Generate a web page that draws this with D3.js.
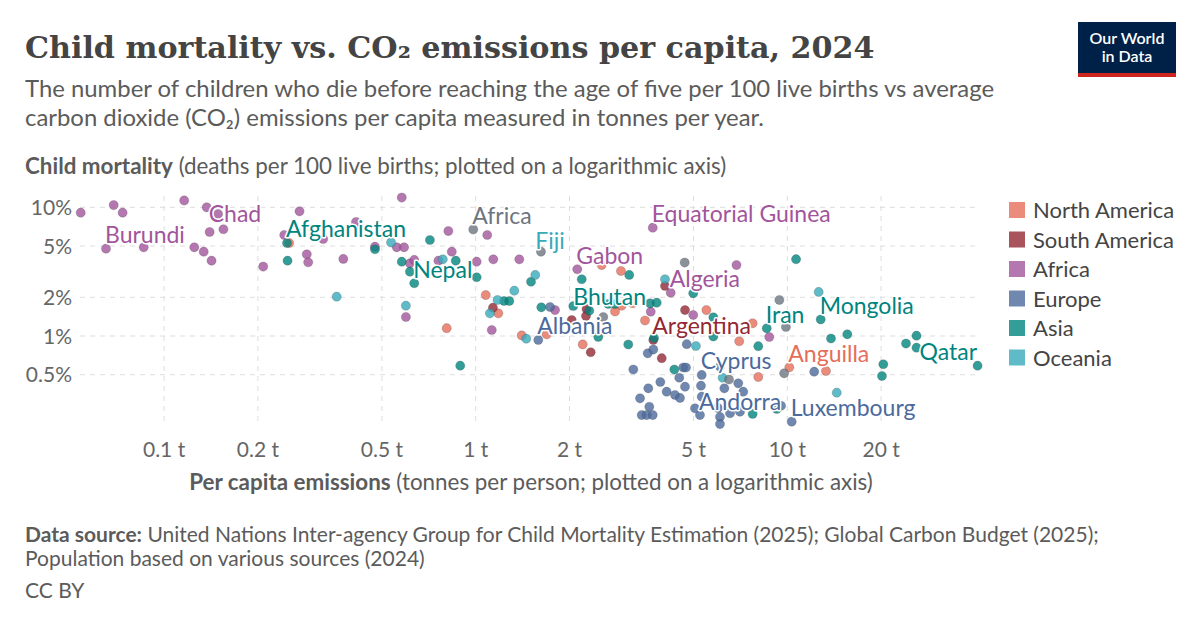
<!DOCTYPE html>
<html>
<head>
<meta charset="utf-8">
<script src="https://cdn.jsdelivr.net/npm/d3@7"></script>
<style>
  body { margin: 0; background: #fff; }
  svg text { font-family: Lato, "Noto Sans", sans-serif; }
</style>
</head>
<body>
<svg id="chart" width="1200" height="627"></svg>
<script>
const continents = ["North America", "South America", "Africa", "Europe", "Asia", "Oceania"]
const colors = ["#E56E5A", "#932834", "#A2559C", "#4C6A9C", "#00847E", "#38AABA"]
const otherColor = "#6D7581"

const xTicks = [0.1, 0.2, 0.5, 1, 2, 5, 10, 20]
const xTickLabels = ["0.1 t", "0.2 t", "0.5 t", "1 t", "2 t", "5 t", "10 t", "20 t"]
const yTicks = [0.5, 1, 2, 5, 10]
const yTickLabels = ["0.5%", "1%", "2%", "5%", "10%"]

// [CO2 per capita (t), child mortality (%), label]
const northAmerica = [
  [0.252, 5.28, ""], [0.807, 1.15], [1.077, 2.08], [1.182, 1.50], [1.405, 1.01],
  [1.69, 1.03], [2.205, 0.86], [2.537, 3.56], [2.926, 3.20], [2.94, 1.72],
  [3.19, 1.80], [2.80, 1.55], [3.494, 1.32], [5.50, 1.59], [7.01, 0.91],
  [8.07, 0.48], [10.15, 0.571, "Anguilla"], [13.31, 0.535], [7.74, 1.255]
]
const southAmerica = [
  [1.136, 1.66], [2.268, 1.62], [2.259, 1.43], [2.033, 1.33], [2.339, 0.748],
  [4.05, 2.45], [4.696, 1.59], [3.715, 0.931, "Argentina"], [3.954, 0.672]
]
const africa = [
  [0.054, 9.08], [0.0689, 10.4], [0.0736, 9.08], [0.116, 11.3], [0.140, 6.43],
  [0.155, 6.75], [0.0651, 4.77, "Burundi"], [0.086, 4.89], [0.125, 4.89], [0.134, 4.52],
  [0.142, 3.85], [0.208, 3.46], [0.272, 9.31], [0.243, 6.09], [0.287, 4.31],
  [0.290, 3.74], [0.324, 5.67], [0.376, 3.97], [0.413, 7.69], [0.475, 4.94],
  [0.558, 4.89], [0.589, 4.89], [0.579, 11.9], [0.149, 8.87], [0.137, 10.0, "Chad"],
  [0.615, 3.67], [0.635, 3.90], [0.817, 6.54], [0.838, 4.52], [0.759, 3.85],
  [1.089, 6.09], [1.007, 3.78], [1.139, 3.94], [1.38, 3.94], [0.597, 1.405],
  [1.126, 1.113], [3.70, 6.94, "Equatorial Guinea"], [2.118, 3.30, "Gabon"], [1.797, 1.59], [3.645, 1.545],
  [4.225, 2.17, "Algeria"], [4.99, 1.456], [6.87, 3.56], [8.755, 0.982]
]
const europe = [
  [1.588, 0.931, "Albania"], [1.732, 1.68], [3.565, 0.734], [3.715, 0.785], [4.756, 0.864],
  [4.637, 0.569], [4.73, 0.569], [3.205, 0.549], [3.368, 0.328], [3.58, 0.392],
  [3.913, 0.439], [4.10, 0.369], [4.36, 0.348], [4.525, 0.330], [4.696, 0.404],
  [4.50, 0.474], [3.607, 0.282], [3.41, 0.243], [3.538, 0.243], [3.70, 0.243],
  [5.055, 0.274], [5.245, 0.243, "Andorra"], [5.312, 0.338], [5.284, 0.411], [5.312, 0.498, "Cyprus"],
  [5.99, 0.276], [6.08, 0.235], [6.08, 0.207], [6.55, 0.251], [7.05, 0.258],
  [6.28, 0.392], [6.96, 0.429], [7.22, 0.369], [9.55, 0.287], [10.33, 0.216, "Luxembourg"],
  [12.2, 0.528], [6.08, 0.577]
]
const asia = [
  [0.248, 5.28, "Afghanistan"], [0.249, 3.85], [0.475, 4.72], [0.579, 3.78], [0.615, 3.16],
  [0.635, 2.57, "Nepal"], [0.713, 5.57], [0.863, 3.85], [1.007, 2.86], [0.892, 0.588],
  [1.233, 1.87], [1.282, 1.87], [1.505, 2.64], [1.624, 1.67], [2.057, 1.71, "Bhutan"],
  [2.189, 2.76], [2.315, 1.573], [2.474, 0.982], [2.664, 1.773], [2.80, 1.773],
  [3.11, 2.98], [3.088, 0.859], [3.626, 1.795], [3.81, 1.815], [3.735, 0.965],
  [4.34, 0.549], [4.99, 2.147], [5.79, 0.991], [5.79, 1.397], [8.07, 0.833],
  [8.59, 1.148, "Iran"], [10.67, 3.95], [12.8, 1.344, "Mongolia"], [13.81, 0.956], [15.58, 1.031],
  [20.33, 0.603], [20.13, 0.489], [24.04, 0.874], [25.98, 1.005], [25.98, 0.811],
  [40.8, 0.588, "Qatar"], [7.74, 0.248], [9.25, 0.271]
]
const oceania = [
  [0.358, 2.02], [0.535, 5.33], [0.597, 1.72], [0.784, 3.94], [1.175, 1.905],
  [1.33, 2.25], [1.111, 1.50], [1.453, 0.953], [1.553, 2.98, "Fiji"], [4.05, 2.76],
  [5.09, 0.836], [6.20, 0.474], [12.61, 2.20], [14.41, 0.363]
]
// regional aggregates, not in the legend
const other = [
  [0.982, 6.72, "Africa"], [1.62, 4.52], [2.567, 1.405], [4.685, 3.72], [9.43, 1.905],
  [9.90, 1.175], [9.77, 0.513], [6.50, 0.459]
]

const series = [northAmerica, southAmerica, africa, europe, asia, oceania]

let points = []
series.forEach((arr, i) => {
  arr.forEach(d => points.push({ x: d[0], y: d[1], name: d[2] || "", color: colors[i] }))
})
other.forEach(d => points.push({ x: d[0], y: d[1], name: d[2] || "", color: otherColor }))

// label placement tweaks (dx, dy from point)
const labelShift = {
  "Chad": [2, 7],
  "Fiji": [0, -34],
  "Bhutan": [0, -9],
  "Qatar": [-58, -14]
}

const svg = d3.select("#chart")

const x = d3.scaleLog().domain([0.1, 10]).range([164.1, 787.3])
const y = d3.scaleLog().domain([1, 10]).range([336, 207.3])

const plotLeft = 80, plotRight = 976, plotTop = 196, plotBottom = 425

// header
const title = svg.append("text")
  .attr("x", 25).attr("y", 58)
  .style("font-family", "'DejaVu Serif', serif")
  .style("font-size", "30px")
  .style("font-weight", "bold")
  .attr("fill", "#444")
  .text("Child mortality vs. CO₂ emissions per capita, 2024")
// fit title to the width it has in the original
const tw = title.node().getComputedTextLength()
title.style("font-size", (30 * 850 / tw) + "px")

const subtitle = [
  "The number of children who die before reaching the age of five per 100 live births vs average",
  "carbon dioxide (CO₂) emissions per capita measured in tonnes per year."
]
svg.selectAll(".sub").data(subtitle).enter().append("text")
  .attr("class", "sub")
  .attr("x", 25).attr("y", (d, i) => 97 + i * 29)
  .style("font-size", "23.9px")
  .attr("fill", "#5b5b5b")
  .text(d => d)

// logo
const logo = svg.append("g").attr("transform", "translate(1078,22)")
logo.append("rect").attr("width", 98).attr("height", 55).attr("fill", "#002147")
logo.append("rect").attr("y", 51).attr("width", 98).attr("height", 4).attr("fill", "#ce261e")
logo.selectAll("text").data(["Our World", "in Data"]).enter().append("text")
  .attr("x", 49).attr("y", (d, i) => 22 + i * 18)
  .attr("text-anchor", "middle")
  .style("font-size", "16px").style("font-weight", "600")
  .attr("fill", "#fff")
  .text(d => d)

// y axis title
const yTitle = svg.append("text").attr("x", 25).attr("y", 174)
  .style("font-size", "22.4px").attr("fill", "#5b5b5b")
yTitle.append("tspan").style("font-weight", "bold").text("Child mortality")
yTitle.append("tspan").text(" (deaths per 100 live births; plotted on a logarithmic axis)")

// grid
svg.append("g").selectAll("line").data(yTicks).enter().append("line")
  .attr("x1", plotLeft).attr("x2", plotRight)
  .attr("y1", d => y(d)).attr("y2", d => y(d))
  .attr("stroke", "#ddd").attr("stroke-dasharray", "5,5")

svg.append("g").selectAll("line").data(xTicks).enter().append("line")
  .attr("x1", d => x(d)).attr("x2", d => x(d))
  .attr("y1", plotTop).attr("y2", plotBottom)
  .attr("stroke", "#ddd").attr("stroke-dasharray", "5,5")

svg.append("g").selectAll("text").data(yTicks).enter().append("text")
  .attr("x", 72).attr("y", d => y(d) + 7.5)
  .attr("text-anchor", "end")
  .style("font-size", "21px").attr("fill", "#666")
  .text((d, i) => yTickLabels[i])

svg.append("g").selectAll("text").data(xTicks).enter().append("text")
  .attr("x", d => x(d)).attr("y", 457)
  .attr("text-anchor", "middle")
  .style("font-size", "21px").attr("fill", "#666")
  .text((d, i) => xTickLabels[i])

const xTitle = svg.append("text").attr("x", 531).attr("y", 490)
  .attr("text-anchor", "middle")
  .style("font-size", "22.4px").attr("fill", "#5b5b5b")
xTitle.append("tspan").style("font-weight", "bold").text("Per capita emissions")
xTitle.append("tspan").text(" (tonnes per person; plotted on a logarithmic axis)")

// points
svg.append("g").selectAll("circle").data(points).enter().append("circle")
  .attr("cx", d => x(d.x)).attr("cy", d => y(d.y))
  .attr("r", 4.6)
  .attr("fill", d => d.color)
  .attr("fill-opacity", 0.8)
  .attr("stroke", "#333")
  .attr("stroke-opacity", 0.35)
  .attr("stroke-width", 0.6)

// labels
const labelled = points.filter(d => d.name)
svg.append("g").selectAll("text").data(labelled).enter().append("text")
  .attr("x", d => x(d.x) + (labelShift[d.name] ? labelShift[d.name][0] : -1))
  .attr("y", d => y(d.y) + (labelShift[d.name] ? labelShift[d.name][1] : -13.5) + 8)
  .style("font-size", "23px")
  .attr("fill", d => d.color)
  .attr("stroke", "#fff").attr("stroke-width", 3).attr("stroke-linejoin", "round")
  .style("paint-order", "stroke")
  .text(d => d.name)

// legend
const legend = svg.append("g").selectAll("g").data(continents).enter().append("g")
  .attr("transform", (d, i) => `translate(1009,${202 + i * 29.5})`)
legend.append("rect").attr("width", 16).attr("height", 16)
  .attr("fill", (d, i) => colors[i]).attr("fill-opacity", 0.8)
legend.append("text").attr("x", 24).attr("y", 16)
  .style("font-size", "22px").attr("fill", "#444")
  .text(d => d)

// footer
const src = svg.append("text").attr("x", 25).attr("y", 542)
  .style("font-size", "21px").attr("fill", "#5b5b5b")
src.append("tspan").style("font-weight", "bold").text("Data source:")
src.append("tspan").text(" United Nations Inter-agency Group for Child Mortality Estimation (2025); Global Carbon Budget (2025);")
svg.append("text").attr("x", 25).attr("y", 566)
  .style("font-size", "21px").attr("fill", "#5b5b5b")
  .text("Population based on various sources (2024)")
svg.append("text").attr("x", 25).attr("y", 598)
  .style("font-size", "21px").attr("fill", "#5b5b5b")
  .text("CC BY")
</script>
</body>
</html>
